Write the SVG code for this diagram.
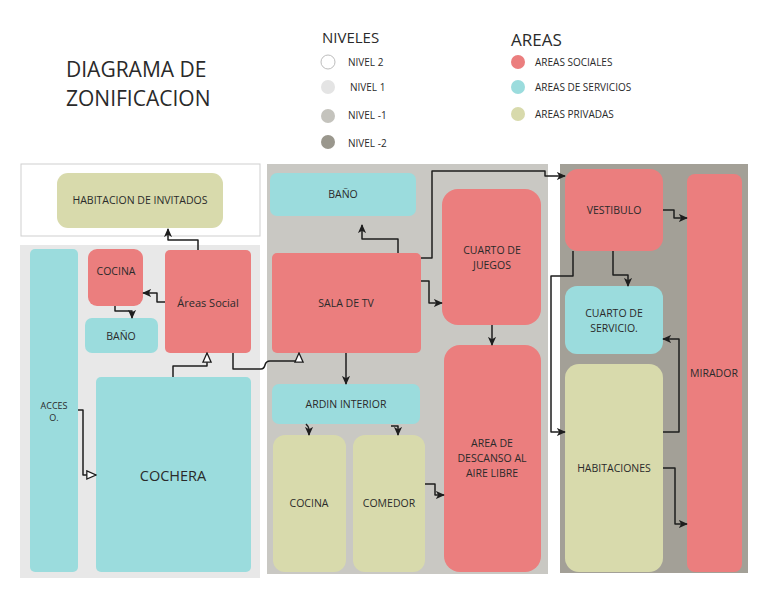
<svg xmlns="http://www.w3.org/2000/svg" width="768" height="594" viewBox="0 0 768 594">
<style>
text{font-family:"Open Sans","Noto Sans","Liberation Sans",sans-serif;fill:#2a2a2a}
.t{font-size:10.5px;text-anchor:middle;dominant-baseline:central}
.s{font-size:9px}
.b{font-size:14.5px}
.m{font-size:11px}
.r{fill:#eb7e7e}
.c{fill:#9bdcdd}
.g{fill:#d8daac}
.k{fill:none;stroke:#1e1e1e;stroke-width:1.5;stroke-linejoin:round}
.f{marker-end:url(#a)}
.h{marker-end:url(#tri)}
.lg{font-size:10px;dominant-baseline:central}
</style>
<defs>
<marker id="a" viewBox="0 0 10 10" refX="9" refY="5" markerWidth="9" markerHeight="9" markerUnits="userSpaceOnUse" orient="auto">
<path d="M0,0.5 L10,5 L0,9.5 L2.5,5 z" fill="#1e1e1e"/>
</marker>
<marker id="tri" viewBox="0 0 12 12" refX="11" refY="6" markerWidth="11" markerHeight="11" markerUnits="userSpaceOnUse" orient="auto">
<path d="M1,1.5 L11,6 L1,10.5 z" fill="#ffffff" stroke="#1e1e1e" stroke-width="1.4"/>
</marker>
</defs>
<rect width="768" height="594" fill="#ffffff"/>

<g id="title">
<text x="66" y="77" font-size="21" fill="#222">DIAGRAMA DE</text>
<text x="66" y="106" font-size="21" fill="#222">ZONIFICACION</text>
</g>

<g id="legend-niveles">
<text x="322" y="43" font-size="15">NIVELES</text>
<circle cx="328" cy="62" r="7" fill="#ffffff" stroke="#bdbdbd" stroke-width="1"/>
<text class="lg" x="348" y="62">NIVEL 2</text>
<circle cx="328" cy="87" r="7" fill="#e4e4e4"/>
<text class="lg" x="350" y="87">NIVEL 1</text>
<circle cx="328" cy="116" r="7" fill="#c4c3bd"/>
<text class="lg" x="348" y="115">NIVEL -1</text>
<circle cx="328" cy="142" r="7" fill="#9a978d"/>
<text class="lg" x="348" y="143">NIVEL -2</text>
</g>
<g id="legend-areas">
<text x="511" y="46" font-size="17">AREAS</text>
<circle cx="518" cy="62" r="7" fill="#eb7e7e"/>
<text class="lg" x="535" y="62">AREAS SOCIALES</text>
<circle cx="518" cy="87" r="7" fill="#9bdcdd"/>
<text class="lg" x="535" y="87">AREAS DE SERVICIOS</text>
<circle cx="518" cy="114" r="7" fill="#d8daac"/>
<text class="lg" x="535" y="114">AREAS PRIVADAS</text>
</g>

<g id="panels">
<rect x="21" y="164" width="239" height="72" fill="#ffffff" stroke="#cfcfcf" stroke-width="1"/>
<rect x="20" y="245" width="240" height="333" fill="#e8e8e8"/>
<rect x="267" y="164" width="281" height="410" fill="#c9c8c3"/>
<rect x="560" y="164" width="188" height="409" fill="#a3a097"/>
</g>

<g id="habitacion-invitados"><rect class="g" x="57" y="173" width="166" height="55" rx="11"/><text class="t" x="140" y="200">HABITACION DE INVITADOS</text></g>
<g id="acceso"><rect class="c" x="30" y="249" width="48" height="323" rx="5"/><text class="t s" x="54" y="405">ACCES</text><text class="t s" x="54" y="417">O.</text></g>
<g id="cocina-1"><rect class="r" x="88" y="249" width="55" height="57" rx="9"/><text class="t" x="116" y="271">COCINA</text></g>
<g id="bano-1"><rect class="c" x="85" y="318" width="73" height="35" rx="7"/><text class="t" x="121" y="336">BAÑO</text></g>
<g id="areas-social"><rect class="r" x="165" y="250" width="86" height="103" rx="5"/><text class="t m" x="208" y="302">Áreas Social</text></g>
<g id="cochera"><rect class="c" x="96" y="377" width="155" height="195" rx="5"/><text class="t b" x="173" y="475">COCHERA</text></g>

<g id="bano-2"><rect class="c" x="270" y="173" width="146" height="43" rx="7"/><text class="t" x="343" y="194">BAÑO</text></g>
<g id="sala-tv"><rect class="r" x="272" y="253" width="149" height="100" rx="5"/><text class="t" x="346" y="303">SALA DE TV</text></g>
<g id="cuarto-juegos"><rect class="r" x="442" y="189" width="99" height="136" rx="16"/><text class="t" x="492" y="250">CUARTO DE</text><text class="t" x="492" y="265">JUEGOS</text></g>
<g id="jardin-interior"><rect class="c" x="272" y="384" width="148" height="40" rx="7"/><text class="t" x="346" y="404">ARDIN INTERIOR</text></g>
<g id="cocina-2"><rect class="g" x="273" y="435" width="73" height="137" rx="12"/><text class="t" x="309" y="503">COCINA</text></g>
<g id="comedor"><rect class="g" x="353" y="435" width="72" height="137" rx="12"/><text class="t" x="389" y="503">COMEDOR</text></g>
<g id="area-descanso"><rect class="r" x="444" y="345" width="97" height="227" rx="16"/><text class="t" x="492" y="443">AREA DE</text><text class="t" x="492" y="458">DESCANSO AL</text><text class="t" x="492" y="473">AIRE LIBRE</text></g>

<g id="vestibulo"><rect class="r" x="565" y="169" width="98" height="82" rx="13"/><text class="t" x="614" y="210">VESTIBULO</text></g>
<g id="mirador"><rect class="r" x="687" y="174" width="55" height="398" rx="8"/><text class="t" x="714" y="373">MIRADOR</text></g>
<g id="cuarto-servicio"><rect class="c" x="565" y="286" width="98" height="68" rx="12"/><text class="t" x="614" y="313">CUARTO DE</text><text class="t" x="614" y="328">SERVICIO.</text></g>
<g id="habitaciones"><rect class="g" x="565" y="364" width="98" height="208" rx="14"/><text class="t" x="614" y="468">HABITACIONES</text></g>

<g id="connectors">
<path class="k f" d="M198,250 V240 H168 V229"/>
<path class="k f" d="M165,302 H157 V293 H143"/>
<path class="k f" d="M115,306 V311 H132 V318"/>
<path class="k h" d="M173,377 V366 H207 V353"/>
<path class="k h" d="M233,353 V369 H261 Q264,369 265,365 Q266,361 270,361 H299 V353"/>
<path class="k h" d="M78,410 H83 V475 H96"/>
<path class="k f" d="M398,253 V239 H362 V225"/>
<path class="k f" d="M421,258 H432 V171 H545 V176 H565"/>
<path class="k f" d="M421,281 H429 V303 H442"/>
<path class="k f" d="M492,325 V345"/>
<path class="k f" d="M346,353 V384"/>
<path class="k f" d="M306,424 Q309,427 309,429 V435"/>
<path class="k f" d="M391,426 H398 V435"/>
<path class="k f" d="M425,484 H435 V495 H444"/>
<path class="k f" d="M663,210 H674 V218 H687"/>
<path class="k f" d="M613,251 V275 H628 V286"/>
<path class="k f" d="M573,251 V276 H551 V432 H565"/>
<path class="k f" d="M663,432 H679 V339 H663"/>
<path class="k f" d="M663,468 H675 V524 H687"/>
</g>
</svg>
